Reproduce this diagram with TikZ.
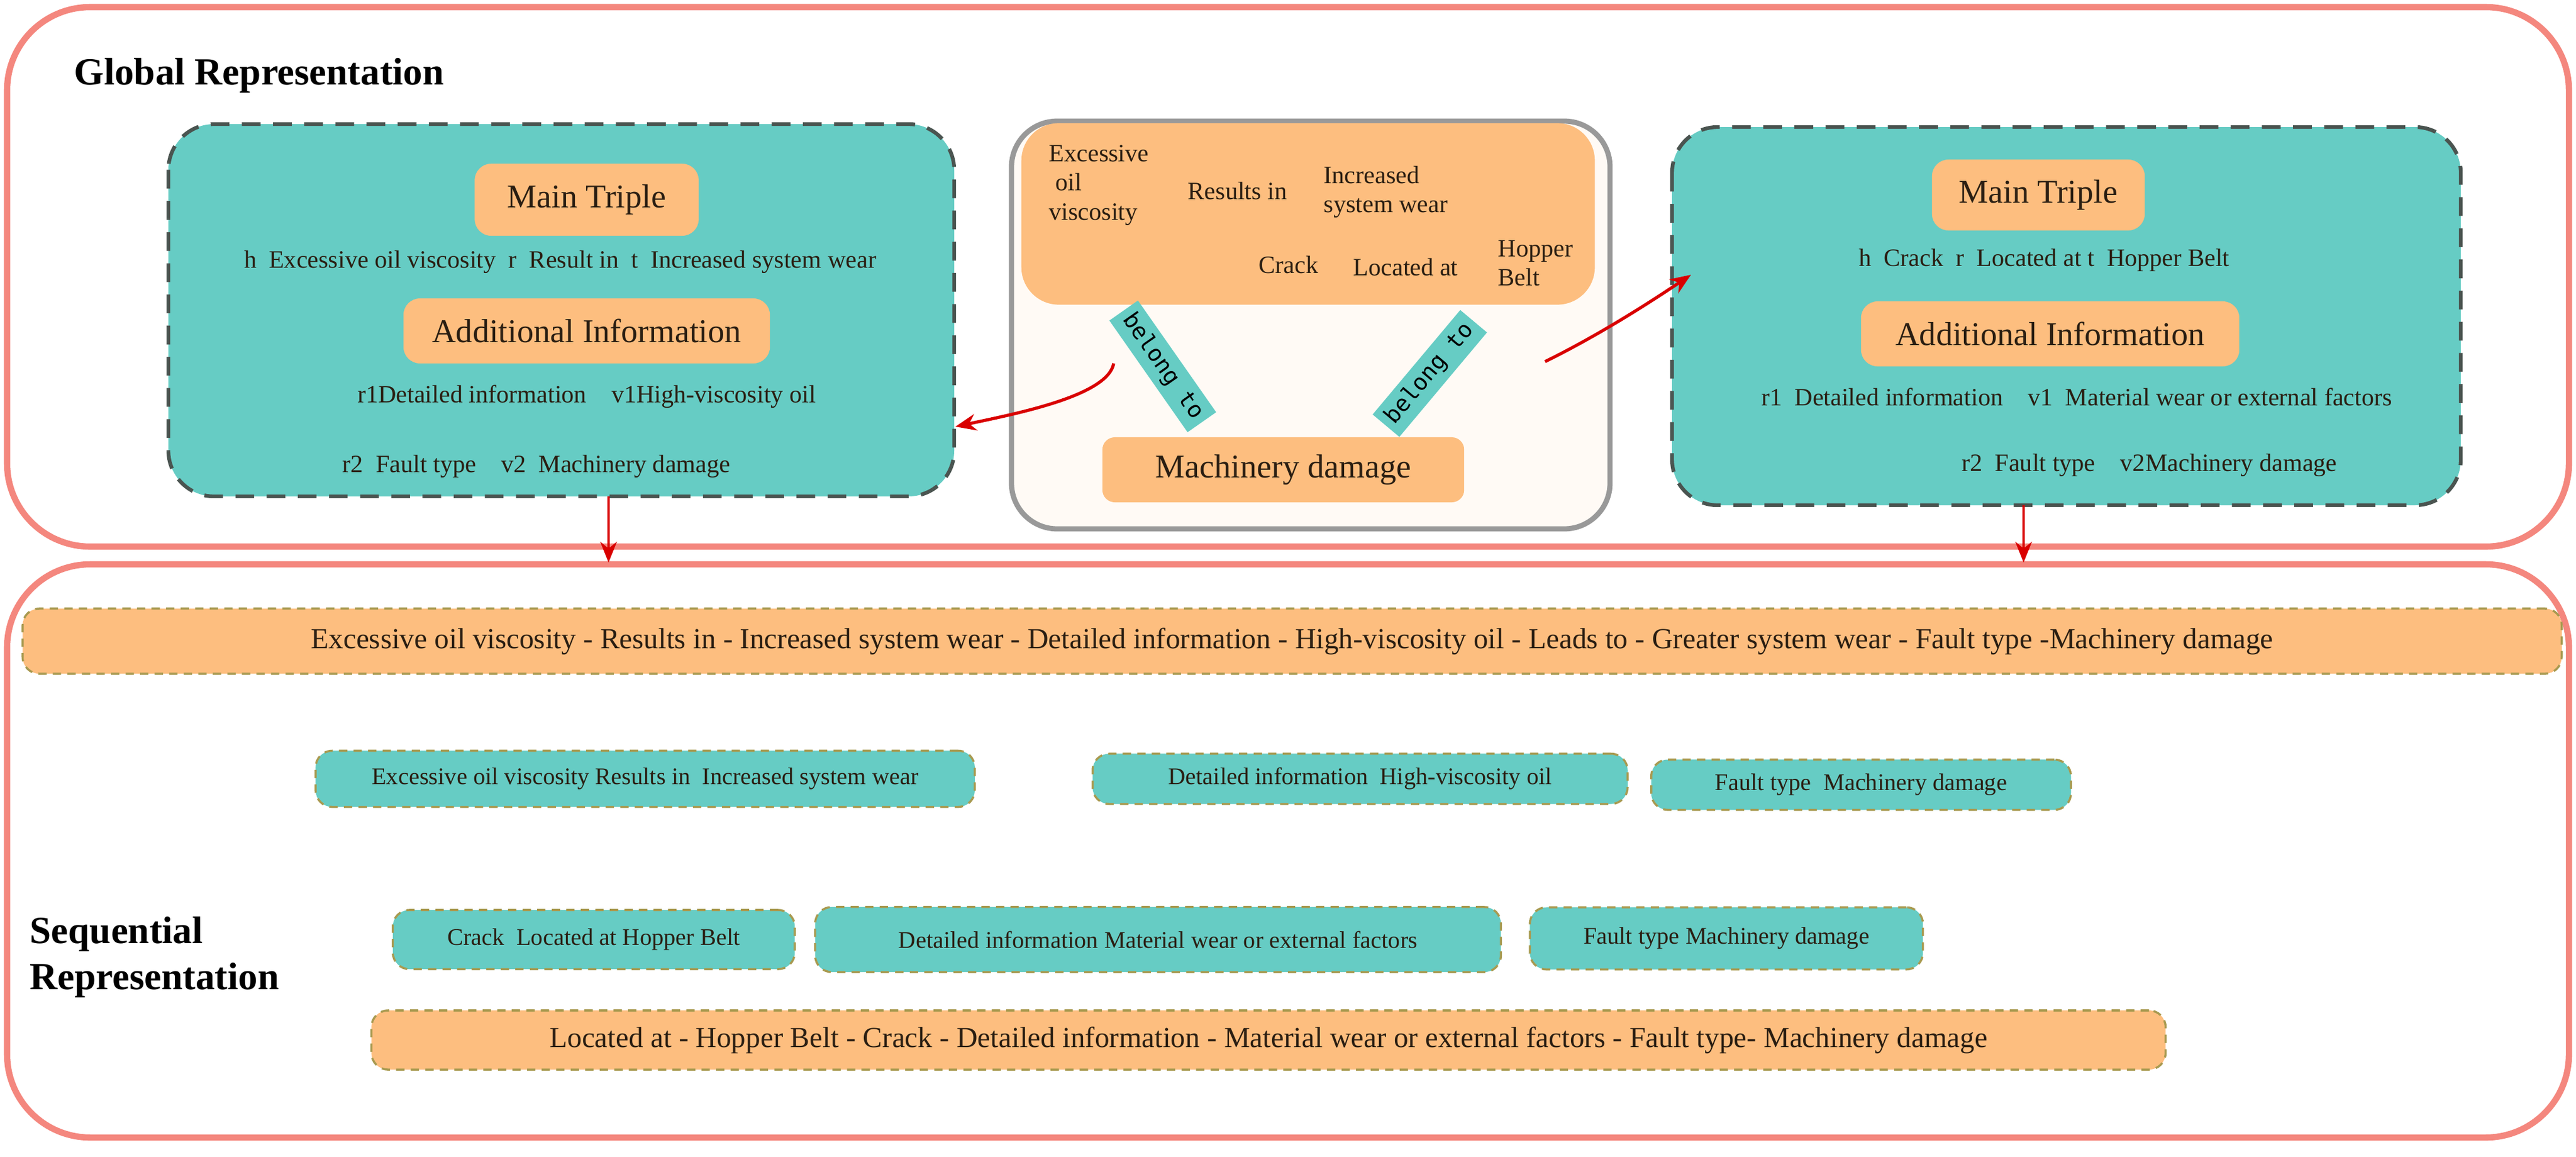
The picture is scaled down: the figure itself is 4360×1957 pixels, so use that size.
\documentclass[tikz,border=0pt]{standalone}
\usepackage{fontspec}
\setmainfont{Liberation Serif}
\newfontfamily\monof{DejaVu Sans Mono}
\usetikzlibrary{arrows.meta}
\definecolor{salmon}{HTML}{F4877E}
\definecolor{teal}{HTML}{66CCC4}
\definecolor{org}{HTML}{FDBE7F}
\definecolor{dgray}{HTML}{4A5450}
\definecolor{olive}{HTML}{A89A50}
\definecolor{txt}{HTML}{2A1E12}
\begin{document}
\begin{tikzpicture}[x=0.01cm,y=-0.01cm,
  outer/.style={draw=salmon,line width=3pt,rounded corners=40pt},
  tbox/.style={draw=dgray,fill=teal,dash pattern=on 9pt off 6pt,line width=1.8pt,rounded corners=22pt},
  obox/.style={fill=org,rounded corners=8pt,inner sep=0pt},
  lab/.style={font=\fontsize{12}{14}\selectfont,text=txt,inner sep=0pt},
  big/.style={font=\fontsize{16}{18}\selectfont,text=txt,inner sep=0pt},
  seq/.style={draw=olive,dash pattern=on 4pt off 3pt,line width=1pt,rounded corners=8pt,inner sep=0pt,text=txt},
  bt/.style={fill=teal,font=\monof\fontsize{11}{12}\selectfont,inner sep=3pt,minimum height=0.55cm},
  rarr/.style={draw=red!85!black,line width=1.5pt,-{Stealth[length=10pt,width=8pt]}}
]
\useasboundingbox (0,0) rectangle (4360,1957);
\fill[white] (0,0) rectangle (4360,1957);
% outer frames
\draw[outer] (12,12) rectangle (4348,925);
\draw[outer] (12,955) rectangle (4348,1925);
\node[anchor=west,font=\bfseries\fontsize{18.5}{20}\selectfont,inner sep=0pt] (gtitle) at (125,128) {Global Representation};
\node[anchor=west,align=left,font=\bfseries\fontsize{18.5}{22}\selectfont,inner sep=0pt] (stitle) at (50,1620) {Sequential\\Representation};
% left box
\draw[tbox] (285,210) rectangle (1615,840);
\node[obox,minimum width=3.79cm,minimum height=1.22cm,big] (lmt) at (993,338) {Main Triple};
\node[lab] (lh) at (948,443) {h\ \ Excessive oil viscosity\ \ r\ \ Result in\ \ t\ \ Increased system wear};
\node[obox,minimum width=6.2cm,minimum height=1.1cm,big] (lai) at (993,560) {Additional Information};
\node[lab] (lr1) at (993,671) {r1Detailed information\ \ \ \ v1High-viscosity oil};
\node[lab] (lr2) at (908,789) {r2\ \ Fault type\ \ \ \ v2\ \ Machinery damage};
% right box
\draw[tbox] (2830,215) rectangle (4165,855);
\node[obox,minimum width=3.6cm,minimum height=1.2cm,big] (rmt) at (3450,330) {Main Triple};
\node[lab] (rh) at (3460,440) {h\ \ Crack\ \ r\ \ Located at t\ \ Hopper Belt};
\node[obox,minimum width=6.4cm,minimum height=1.1cm,big] (rai) at (3470,565) {Additional Information};
\node[lab] (rr1) at (3515,672) {r1\ \ Detailed information\ \ \ \ v1\ \ Material wear or external factors};
\node[lab] (rr2) at (3638,787) {r2\ \ Fault type\ \ \ \ v2Machinery damage};
% center box
\draw[draw=gray!80,line width=2.5pt,fill=white!96!orange,rounded corners=22pt] (1712,205) rectangle (2725,895);
\node[obox,minimum width=9.7cm,minimum height=3.07cm,rounded corners=18pt] (cor) at (2214,362) {};
\node[lab,anchor=north west,align=left] (c1) at (1775,245) {Excessive\\\ oil\\viscosity};
\node[lab,anchor=west] (c2) at (2010,323) {Results in};
\node[lab,anchor=west,align=left] (c3) at (2240,325) {Increased\\system wear};
\node[lab,anchor=west] (c4) at (2130,448) {Crack};
\node[lab,anchor=west] (c5) at (2290,452) {Located at};
\node[lab,anchor=west,align=left] (c6) at (2535,445) {Hopper\\Belt};
\node[obox,minimum width=6.12cm,minimum height=1.1cm,big,rounded corners=6pt] (cmd) at (2172,795) {Machinery damage};
\node[bt,rotate=-55] (bl1) at (1968,620) {belong to};
\node[bt,rotate=50] (bl2) at (2420,632) {belong to};
% arrows
\coordinate (la) at (1885,615);
\coordinate (ra) at (2615,612);
\draw[rarr] (la) .. controls (1875,670) and (1720,700) .. (1617,722);
\draw[rarr] (ra) .. controls (2700,570) and (2780,520) .. (2862,465);
\draw[rarr,line width=1.2pt] (1030,840) -- (1030,952);
\draw[rarr,line width=1.2pt] (3425,855) -- (3425,952);
% sequential
\node[seq,fill=org,minimum width=42.95cm,minimum height=1.1cm,font=\fontsize{14}{16}\selectfont] (s1) at (2187,1085) {Excessive oil viscosity - Results in - Increased system wear - Detailed information - High-viscosity oil - Leads to - Greater system wear - Fault type -Machinery damage};
\node[seq,fill=teal,minimum width=11.15cm,minimum height=0.95cm,font=\fontsize{11.5}{13}\selectfont] (t1) at (1092,1318) {Excessive oil viscosity Results in\ \ Increased system wear};
\node[seq,fill=teal,minimum width=9.05cm,minimum height=0.85cm,font=\fontsize{11.5}{13}\selectfont] (t2) at (2302,1318) {Detailed information\ \ High-viscosity oil};
\node[seq,fill=teal,minimum width=7.1cm,minimum height=0.85cm,font=\fontsize{11.5}{13}\selectfont] (t3) at (3150,1328) {Fault type\ \ Machinery damage};
\node[seq,fill=teal,minimum width=6.8cm,minimum height=1.0cm,font=\fontsize{11.5}{13}\selectfont] (t4) at (1005,1590) {Crack\ \ Located at Hopper Belt};
\node[seq,fill=teal,minimum width=11.6cm,minimum height=1.1cm,font=\fontsize{11.5}{13}\selectfont] (t5) at (1960,1590) {Detailed information Material wear or external factors};
\node[seq,fill=teal,minimum width=6.65cm,minimum height=1.05cm,font=\fontsize{11.5}{13}\selectfont] (t6) at (2922,1588) {Fault type Machinery damage};
\node[seq,fill=org,minimum width=30.35cm,minimum height=1.0cm,font=\fontsize{14}{16}\selectfont] (s2) at (2147,1760) {Located at - Hopper Belt - Crack - Detailed information - Material wear or external factors - Fault type- Machinery damage};
\end{tikzpicture}
\end{document}
